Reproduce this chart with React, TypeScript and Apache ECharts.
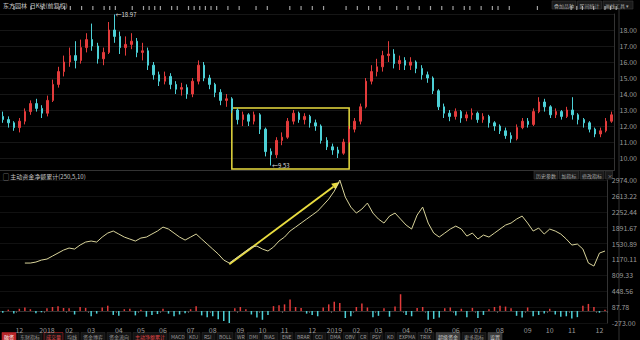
import React, { useEffect, useRef } from "react";
import * as echarts from "echarts";

// ---------- DATA (weekly bars) ----------
const FIRST_WEEK = "2017-11-10";

const open = [
  12.6, 12.4, 12.2, 11.9, 12.3, 12.9, 13.4, 13.1, 12.8, 13.6,
  14.6, 15.4, 16.0, 16.4, 16.1, 16.9, 17.4, 17.0, 16.2, 16.6,
  18.0, 17.6, 16.9, 17.1, 17.3, 16.6, 16.7, 15.8, 15.2, 14.8,
  15.1, 14.6, 14.3, 14.4, 14.0, 14.8, 15.8, 15.0, 14.6, 14.1,
  13.6, 13.7, 13.0, 12.4, 12.7, 12.3, 12.7, 11.8, 10.4, 10.2,
  11.1, 11.3, 12.3, 12.8, 12.4, 12.6, 12.2, 12.0, 11.1, 10.7,
  10.5, 10.3, 11.0, 11.8, 12.3, 13.2, 14.8, 15.4, 15.7, 16.4,
  16.5, 15.9, 16.1, 15.8, 16.0, 15.6, 15.2, 15.0, 14.2, 13.2,
  12.8, 12.6, 12.9, 12.5, 12.7, 12.8, 12.4, 12.6, 12.2, 12.0,
  11.7, 11.4, 11.2, 11.9, 12.3, 12.1, 12.9, 13.5, 13.2, 12.7,
  12.9, 12.6, 13.0, 12.7, 12.4, 12.2, 11.8, 11.5, 11.7, 12.3,
];
const close = [
  12.4, 12.2, 11.9, 12.3, 12.9, 13.4, 13.1, 12.8, 13.6, 14.6,
  15.4, 16.0, 16.4, 16.1, 16.9, 17.4, 17.0, 16.2, 16.6, 18.0,
  17.6, 16.9, 17.1, 17.3, 16.6, 16.7, 15.8, 15.2, 14.8, 15.1,
  14.6, 14.3, 14.4, 14.0, 14.8, 15.8, 15.0, 14.6, 14.1, 13.6,
  13.7, 13.0, 12.4, 12.7, 12.3, 12.7, 11.8, 10.4, 10.2, 11.1,
  11.3, 12.3, 12.8, 12.4, 12.6, 12.2, 12.0, 11.1, 10.7, 10.5,
  10.3, 11.0, 11.8, 12.3, 13.2, 14.8, 15.4, 15.7, 16.4, 16.5,
  15.9, 16.1, 15.8, 16.0, 15.6, 15.2, 15.0, 14.2, 13.2, 12.8,
  12.6, 12.9, 12.5, 12.7, 12.8, 12.4, 12.6, 12.2, 12.0, 11.7,
  11.4, 11.2, 11.9, 12.3, 12.1, 12.9, 13.5, 13.2, 12.7, 12.9,
  12.6, 13.0, 12.7, 12.4, 12.2, 11.8, 11.5, 11.7, 12.3, 12.7,
];
const low = [
  12.2, 11.9, 11.7, 11.6, 12.1, 12.7, 12.9, 12.5, 12.6, 13.5,
  14.4, 15.1, 15.7, 15.6, 15.9, 16.6, 16.7, 15.9, 15.8, 16.5,
  17.2, 16.5, 16.4, 16.8, 16.3, 16.1, 15.5, 14.9, 14.5, 14.6,
  14.3, 14.0, 13.9, 13.7, 13.8, 14.6, 14.8, 14.3, 13.8, 13.3,
  13.2, 12.8, 12.1, 12.0, 12.0, 12.1, 11.5, 10.1, 9.53, 10.0,
  10.8, 11.2, 12.1, 12.2, 12.1, 11.9, 11.7, 10.9, 10.5, 10.2,
  10.0, 10.2, 10.9, 11.6, 12.1, 13.1, 14.6, 15.1, 15.4, 16.0,
  15.6, 15.5, 15.5, 15.5, 15.3, 14.9, 14.7, 14.0, 13.0, 12.5,
  12.3, 12.4, 12.2, 12.3, 12.4, 12.2, 12.2, 11.9, 11.7, 11.5,
  11.2, 10.95, 11.1, 11.8, 11.9, 12.0, 12.8, 12.9, 12.5, 12.5,
  12.4, 12.5, 12.4, 12.1, 11.9, 11.6, 11.3, 11.3, 11.6, 12.2,
];
const high = [
  12.9, 12.6, 12.3, 12.5, 13.1, 13.6, 13.7, 13.3, 13.9, 14.9,
  15.7, 16.4, 16.9, 17.3, 17.4, 17.8, 18.4, 17.2, 16.9, 18.5,
  18.97, 17.9, 17.6, 17.8, 17.5, 17.2, 16.9, 16.0, 15.4, 15.4,
  15.3, 14.8, 14.7, 14.6, 15.0, 16.1, 16.0, 15.2, 14.7, 14.3,
  14.0, 13.8, 13.1, 12.9, 12.8, 12.9, 12.8, 11.9, 10.6, 11.3,
  11.6, 12.5, 13.0, 12.9, 12.8, 12.7, 12.4, 12.1, 11.3, 10.9,
  10.7, 11.2, 12.0, 12.5, 13.4, 15.0, 15.8, 16.2, 16.7, 17.3,
  16.8, 16.4, 16.3, 16.3, 16.1, 15.8, 15.4, 15.1, 14.3, 13.4,
  13.0, 13.1, 13.0, 12.9, 13.1, 12.9, 12.8, 12.7, 12.3, 12.1,
  11.9, 11.6, 12.1, 12.5, 12.5, 13.1, 13.8, 13.7, 13.3, 13.1,
  13.0, 13.2, 13.8, 12.8, 12.5, 12.3, 11.9, 11.9, 12.5, 12.9,
];

// cumulative indicator line (null before it starts)
const netLine = [
  null, null, null, null, 1088, 1088, 1111, 1156, 1179, 1247,
  1315, 1383, 1429, 1406, 1497, 1565, 1588, 1565, 1678, 1769,
  1815, 1747, 1678, 1633, 1588, 1656, 1678, 1747, 1815, 1905,
  1860, 1769, 1678, 1610, 1678, 1747, 1633, 1520, 1406, 1293,
  1156, 1088, 1179, 1270, 1361, 1451, 1474, 1406, 1361, 1451,
  1588, 1678, 1815, 1905, 1996, 2087, 2178, 2268, 2404, 2541,
  2722, 2974, 2586, 2359, 2223, 2314, 2450, 2223, 2087, 1996,
  2155, 2223, 2087, 1951, 1860, 2178, 2359, 1996, 1769, 1678,
  1769, 1860, 1928, 1860, 1701, 1769, 1633, 1724, 1678, 1769,
  1860, 1951, 1996, 2087, 2155, 1996, 1815, 1883, 1747, 1860,
  1815, 1747, 1633, 1497, 1520, 1406, 1088, 1020, 1315, 1361,
];

// net amount histogram
const hist = [
  -40, 30, -60, 50, 80, 40, -50, -30, 60, 90,
  110, 70, 60, -80, 90, 70, -120, -60, 80, 120,
  -90, -110, 40, 50, -100, 30, -130, -90, -70, 50,
  -60, -120, -80, -50, 40, 110, -100, -140, -120, -190,
  -230, -273, 60, 90, 40, -80, -150, -200, -90, 110,
  130, 150, 260, 90, 70, -60, -90, -120, 80, 150,
  210, 180, -160, -120, 90, 170, 80, -140, -110, 60,
  -130, 100, 380, -90, -120, 70, 90, -200, -180, -150,
  60, 80, -100, 50, -140, 70, -160, -90, 40, 90,
  120, 100, 60, -110, -150, 80, -120, -90, -60, 50,
  -80, -130, -120, -170, -140, 120, 160, 90, -40, 30,
];

// weeks carrying an info marker in the top strip
const markerWeeks = [
  2, 5, 7, 10, 11, 12, 14, 16, 18, 19, 20, 23, 25, 26, 27, 28, 30, 31, 33, 34,
  35, 36, 37, 38, 40, 42, 45, 47, 51, 53, 55, 57, 61, 63, 65, 67, 70, 72, 74, 76,
  78, 80, 82, 83, 85, 87, 88, 90, 95, 101, 102, 103, 105, 107, 108, 109,
];

// indicator axis ticks: from min, 9 equal steps
const IND_MIN = -273;
const IND_STEP = 360.7777;
const IND_STEPS = 9;

// annotation (data space)
const BOX = { fromWeek: 41.1, toWeek: 61.5, top: 13.12, bottom: 9.31 };
const ARROW = { from: [41.3, 1060], to: [60.6, 2930] };

const TITLE = "东方园林  日K线(前复权)";
const IND_TITLE = "▢ 主动资金净额累计(250,5,10)";
const TOP_BUTTONS = ["叠加品种", "区间统计", "画线工具 ▾"];
const IND_BUTTONS = ["历史参数", "加指标", "修改指标", "×"];
const BOTTOM_TABS = [
  "融资", "东财指标", "成交量", "均线", "资金博弈", "资金流向", "主动净额累计",
  "MACD", "KDJ", "RSI", "BOLL", "WR", "DMI", "BIAS", "ENE", "BRAR", "CCI",
  "DMA", "OBV", "CR", "PSY", "KD", "EXPMA", "TRIX", "超级资金", "更多指标", "设置",
];

// ---------- helpers ----------
const categories: string[] = (() => {
  const out: string[] = [];
  const d = new Date(FIRST_WEEK + "T00:00:00Z");
  for (let i = 0; i < close.length; i++) {
    out.push(d.toISOString().slice(0, 10));
    d.setUTCDate(d.getUTCDate() + 7);
  }
  return out;
})();

const isMonthStart = (i: number) =>
  i > 0 && categories[i].slice(5, 7) !== categories[i - 1].slice(5, 7);

const RED = "#e23b3b";
const CYAN = "#4cd0d6";
const AXIS_TXT = "#9a9a9a";
const FONT = '"Noto Sans CJK SC", "Noto Sans", sans-serif';

const textW = (s: string, fs: number) => {
  let w = 0;
  for (const ch of s) w += /[\u2E80-\uFFFF]/.test(ch) ? fs : fs * 0.6;
  return w;
};

function buttonRow(
  labels: string[], x0: number, yc: number, fs: number, pad: number, gap: number,
  styleFor: (i: number) => { bg: string; border: string; fill: string }
) {
  const els: any[] = [];
  let x = x0;
  labels.forEach((lab, i) => {
    const w = textW(lab, fs) + pad * 2;
    const st = styleFor(i);
    els.push({
      type: "rect", silent: true,
      shape: { x, y: yc - fs / 2 - 1.5, width: w, height: fs + 3 },
      style: { fill: st.bg, stroke: st.border, lineWidth: 0.6 },
    });
    els.push({
      type: "text", silent: true, x: x + pad, y: yc,
      style: { text: lab, fontSize: fs, fill: st.fill, fontFamily: FONT, verticalAlign: "middle", align: "left" },
    });
    x += w + gap;
  });
  return els;
}

export default function App() {
  const ref = useRef<HTMLDivElement>(null);

  useEffect(() => {
    if (!ref.current) return;
    const chart = echarts.init(ref.current, undefined, { renderer: "svg", width: 640, height: 340 });

    const ohlc = close.map((_, i) => [open[i], close[i], low[i], high[i]]);
    const gridRight = 21;

    const option: any = {
      animation: false,
      backgroundColor: "#000",
      grid: [
        { left: 0, right: gridRight, top: 5, height: 6 },
        { left: 0, right: gridRight, top: 14, height: 156 },
        { left: 0, right: gridRight, top: 180, height: 143 },
      ],
      xAxis: [
        { gridIndex: 0, type: "category", data: categories, show: false, boundaryGap: true },
        {
          gridIndex: 1, type: "category", data: categories, boundaryGap: true,
          axisLabel: { show: false }, axisTick: { show: false },
          axisLine: { show: true, lineStyle: { color: "#333" } },
        },
        {
          gridIndex: 2, type: "category", data: categories, boundaryGap: true,
          axisLine: { show: true, lineStyle: { color: "#333" } },
          axisTick: { show: true, length: 2, interval: (i: number) => isMonthStart(i), lineStyle: { color: "#555" } },
          axisLabel: {
            show: true, fontSize: 7, color: AXIS_TXT, margin: 3, fontFamily: FONT,
            interval: (i: number) => isMonthStart(i),
            formatter: (v: string) => (v.slice(5, 7) === "01" ? v.slice(0, 4) : v.slice(5, 7)),
          },
        },
      ],
      yAxis: [
        { gridIndex: 0, type: "value", min: -1, max: 1, show: false },
        {
          gridIndex: 1, type: "value", position: "right", min: 9.25, max: 19, splitNumber: 10,
          axisLine: { show: true, lineStyle: { color: "#333" } },
          axisTick: { show: false },
          splitLine: { show: true, lineStyle: { color: "#161616" } },
          axisLabel: {
            fontSize: 7, color: AXIS_TXT, margin: 5, fontFamily: FONT,
            showMinLabel: false, showMaxLabel: false,
            formatter: (v: number) => v.toFixed(2),
          },
        },
        {
          gridIndex: 2, type: "value", position: "right",
          min: IND_MIN, max: IND_MIN + IND_STEP * IND_STEPS, interval: IND_STEP,
          axisLine: { show: true, lineStyle: { color: "#333" } },
          axisTick: { show: false },
          splitLine: { show: true, lineStyle: { color: "#111" } },
          axisLabel: {
            fontSize: 7, color: AXIS_TXT, margin: 4, fontFamily: FONT,
            formatter: (v: number) => v.toFixed(2),
          },
        },
      ],
      series: [
        {
          type: "scatter", xAxisIndex: 0, yAxisIndex: 0, silent: true,
          data: markerWeeks.map((i) => [i, 0]),
          symbol: "rect", symbolSize: [1.2, 4],
          itemStyle: { color: "#c8c8c8" },
        },
        {
          type: "candlestick", xAxisIndex: 1, yAxisIndex: 1, data: ohlc, barWidth: 2,
          itemStyle: { color: RED, color0: CYAN, borderColor: RED, borderColor0: CYAN, borderWidth: 1 },
          markPoint: {
            symbol: "circle", symbolSize: 0, silent: true,
            data: [
              { type: "max", valueDim: "highest", name: "最高" },
              { type: "min", valueDim: "lowest", name: "最低" },
            ],
            label: {
              show: true, position: "right", distance: 1, fontSize: 6, color: "#dddddd", fontFamily: FONT,
              formatter: (p: any) => "←" + Number(p.value).toFixed(2),
            },
          },
        },
        {
          type: "line", xAxisIndex: 2, yAxisIndex: 2, data: netLine, symbol: "none",
          lineStyle: { color: "#d8d39a", width: 1 },
        },
        {
          type: "bar", xAxisIndex: 2, yAxisIndex: 2, barWidth: 1.5,
          data: hist.map((v) => ({ value: v, itemStyle: { color: v >= 0 ? RED : CYAN } })),
        },
      ],
    };

    chart.setOption(option);

    // annotations computed from data coordinates
    const p = (x: number, y: number, g: number) =>
      chart.convertToPixel({ xAxisIndex: g, yAxisIndex: g }, [x, y]) as number[];
    const tl = p(BOX.fromWeek, BOX.top, 1);
    const br = p(BOX.toWeek, BOX.bottom, 1);
    const a0 = p(ARROW.from[0], ARROW.from[1], 2);
    const a1 = p(ARROW.to[0], ARROW.to[1], 2);
    const ang = Math.atan2(a1[1] - a0[1], a1[0] - a0[0]);
    const L = 8, W = 3.6;
    const bx = a1[0] - L * Math.cos(ang), by = a1[1] - L * Math.sin(ang);
    const head = [
      [a1[0], a1[1]],
      [bx + W * Math.sin(ang), by - W * Math.cos(ang)],
      [bx - W * Math.sin(ang), by + W * Math.cos(ang)],
    ];
    const yellow = "#e9dc3f";
    const axisX = 640 - gridRight;

    const plain = { bg: "#1a1a1a", border: "#3a3a3a", fill: "#a8a8a8" };
    const tabStyle = (i: number) => {
      const lab = BOTTOM_TABS[i];
      if (i === 0) return { bg: "#b8262a", border: "#b8262a", fill: "#ffffff" };
      if (lab === "成交量") return { bg: "#141414", border: "#b8262a", fill: "#e04444" };
      if (lab === "主动净额累计") return { bg: "#141414", border: "#2a2a2a", fill: "#e04444" };
      if (lab === "超级资金" || lab === "设置") return { bg: "#3a3a3a", border: "#444", fill: "#cfcfcf" };
      return { bg: "#141414", border: "#2a2a2a", fill: "#9a9a9a" };
    };

    const graphic: any[] = [
      { type: "line", silent: true, shape: { x1: axisX, y1: 0, x2: axisX, y2: 340 }, style: { stroke: "#333", lineWidth: 1 } },
      { type: "text", silent: true, x: 3, y: 5, style: { text: TITLE, fontSize: 6, fill: "#c8c8c8", fontFamily: FONT, verticalAlign: "middle" } },
      { type: "text", silent: true, x: 3, y: 176, style: { text: IND_TITLE, fontSize: 6, fill: "#c0c0c0", fontFamily: FONT, verticalAlign: "middle" } },
      ...buttonRow(TOP_BUTTONS, 552, 5, 5, 2, 1.5, () => plain),
      ...buttonRow(IND_BUTTONS, 534, 175, 5, 2, 1.5, () => plain),
      ...buttonRow(BOTTOM_TABS, 2, 336.5, 5, 2, 2, tabStyle),
      {
        type: "rect", silent: true,
        shape: { x: tl[0], y: tl[1], width: br[0] - tl[0], height: br[1] - tl[1] },
        style: { fill: "none", stroke: yellow, lineWidth: 1.5 },
      },
      {
        type: "line", silent: true,
        shape: { x1: a0[0], y1: a0[1], x2: bx, y2: by },
        style: { stroke: yellow, lineWidth: 2 },
      },
      { type: "polygon", silent: true, shape: { points: head }, style: { fill: yellow } },
    ];
    chart.setOption({ graphic });

    return () => chart.dispose();
  }, []);

  return (
    <div
      ref={ref}
      style={{ position: "fixed", left: 0, top: 0, width: 640, height: 340, background: "#000" }}
    />
  );
}
